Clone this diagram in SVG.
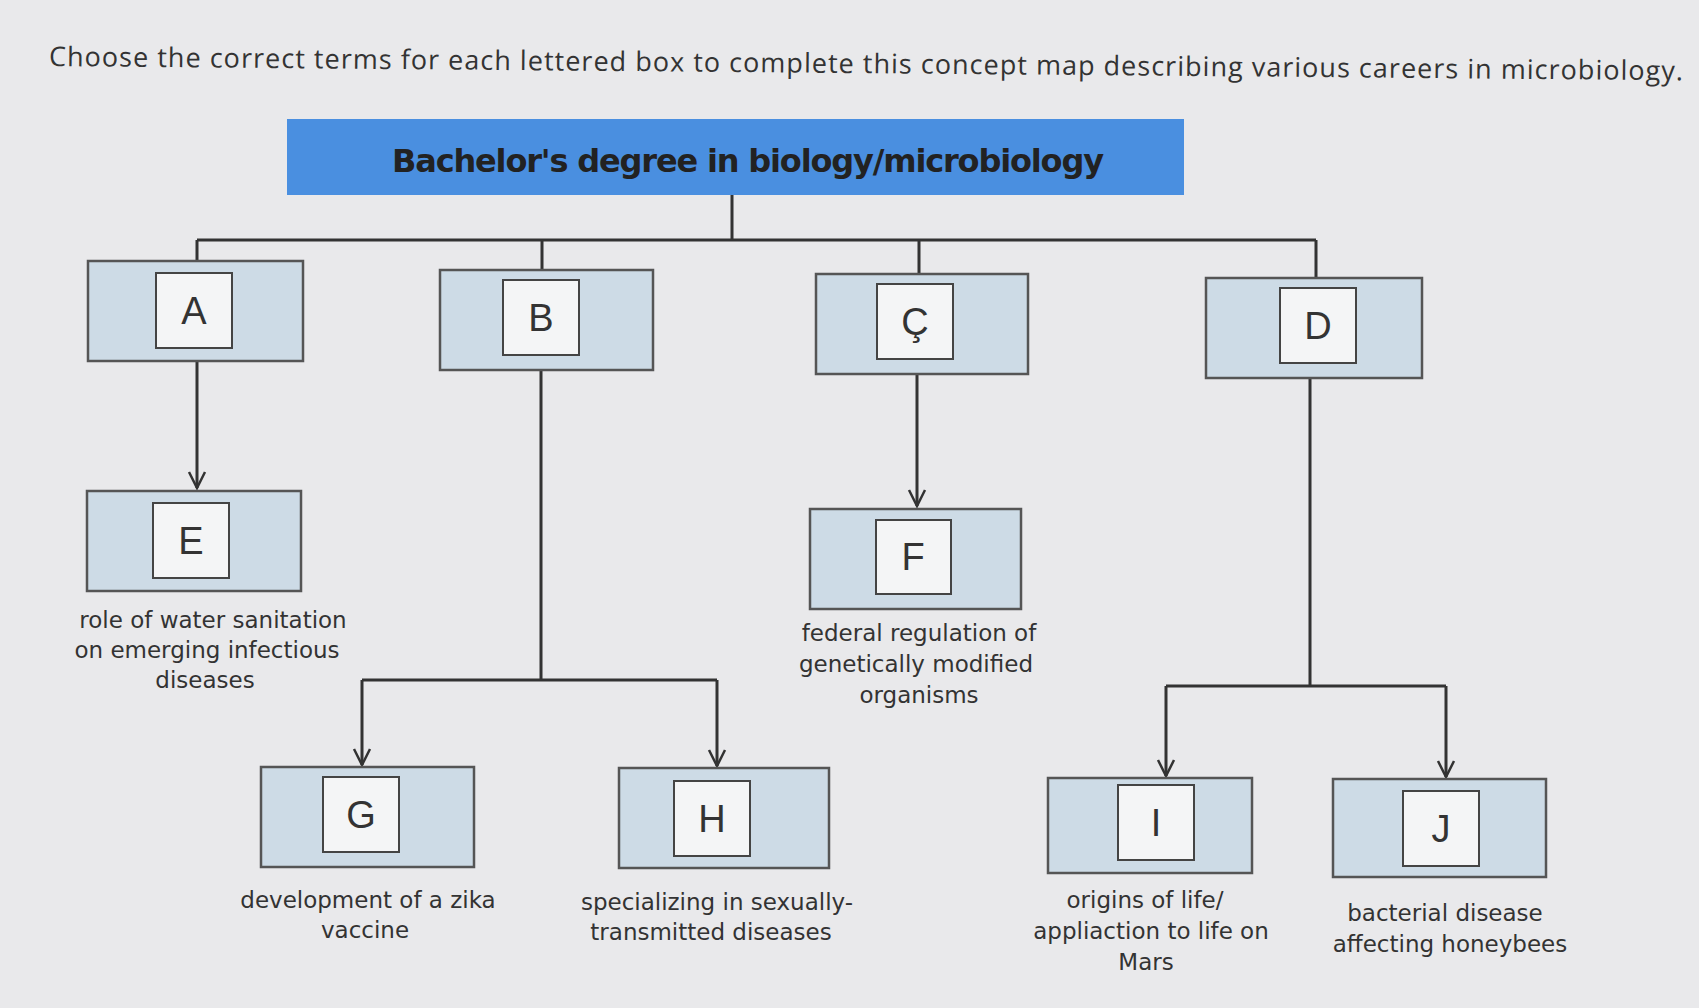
<svg xmlns="http://www.w3.org/2000/svg" width="1699" height="1008" viewBox="0 0 1699 1008">
<defs>
<marker id="a" viewBox="0 0 20 20" refX="18" refY="10" markerWidth="20" markerHeight="20" markerUnits="userSpaceOnUse" orient="auto"><path d="M2,2 L18,10 L2,18" fill="none" stroke="#333" stroke-width="2.5"/></marker>
</defs>
<style>
.o{fill:#cddbe6;stroke:#555;stroke-width:2.5}
.i{fill:#f4f5f6;stroke:#444;stroke-width:2}
.l{font-family:"Liberation Sans",Arial,sans-serif;font-size:38px;fill:#333;text-anchor:middle}
.t{font-family:"DejaVu Sans","Liberation Sans",sans-serif;font-size:23px;fill:#333;text-anchor:middle}
.c{fill:none;stroke:#333;stroke-width:3}
</style>
<rect width="1699" height="1008" fill="#e9e9eb"/>
<text x="49" y="66" font-family="'Open Sans','Liberation Sans',sans-serif" font-size="27" fill="#333" textLength="1634" transform="rotate(0.5 49 66)">Choose the correct terms for each lettered box to complete this concept map describing various careers in microbiology.</text>
<g id="top"><rect x="287" y="119" width="897" height="76" fill="#4a8fe0"/><text x="748" y="172" font-family="'DejaVu Sans','Liberation Sans',sans-serif" font-weight="bold" font-size="32" fill="#222" text-anchor="middle" textLength="712">Bachelor's degree in biology/microbiology</text></g>
<g id="connectors">
<path class="c" d="M732,195 V240 M197,240 H1316 M197,240 V260 M542,240 V269 M919,240 V273 M1316,240 V277"/>
<path class="c" d="M197,362 V488" marker-end="url(#a)"/>
<path class="c" d="M917,375 V506" marker-end="url(#a)"/>
<path class="c" d="M541,371 V680 M362,680 H717"/>
<path class="c" d="M362,680 V765" marker-end="url(#a)"/>
<path class="c" d="M717,680 V766" marker-end="url(#a)"/>
<path class="c" d="M1310,378 V686 M1166,686 H1446"/>
<path class="c" d="M1166,686 V776" marker-end="url(#a)"/>
<path class="c" d="M1446,686 V777" marker-end="url(#a)"/>
</g>
<g id="A"><rect class="o" x="88" y="261" width="215" height="100"/><rect class="i" x="156" y="273" width="76" height="75"/><text class="l" x="194" y="324">A</text></g>
<g id="B"><rect class="o" x="440" y="270" width="213" height="100"/><rect class="i" x="503" y="280" width="76" height="75"/><text class="l" x="541" y="331">B</text></g>
<g id="C"><rect class="o" x="816" y="274" width="212" height="100"/><rect class="i" x="877" y="284" width="76" height="75"/><text class="l" x="915" y="335">Ç</text></g>
<g id="D"><rect class="o" x="1206" y="278" width="216" height="100"/><rect class="i" x="1280" y="288" width="76" height="75"/><text class="l" x="1318" y="339">D</text></g>
<g id="E"><rect class="o" x="87" y="491" width="214" height="100"/><rect class="i" x="153" y="503" width="76" height="75"/><text class="l" x="191" y="554">E</text></g>
<g id="F"><rect class="o" x="810" y="509" width="211" height="100"/><rect class="i" x="876" y="520" width="75" height="74"/><text class="l" x="913" y="570">F</text></g>
<g id="G"><rect class="o" x="261" y="767" width="213" height="100"/><rect class="i" x="323" y="777" width="76" height="75"/><text class="l" x="361" y="828">G</text></g>
<g id="H"><rect class="o" x="619" y="768" width="210" height="100"/><rect class="i" x="674" y="781" width="76" height="75"/><text class="l" x="712" y="832">H</text></g>
<g id="I"><rect class="o" x="1048" y="778" width="204" height="95"/><rect class="i" x="1118" y="785" width="76" height="75"/><text class="l" x="1156" y="836">I</text></g>
<g id="J"><rect class="o" x="1333" y="779" width="213" height="98"/><rect class="i" x="1403" y="791" width="76" height="75"/><text class="l" x="1441" y="842">J</text></g>
<g id="labels">
<text class="t" x="213" y="628">role of water sanitation</text><text class="t" x="207" y="658">on emerging infectious</text><text class="t" x="205" y="688">diseases</text>
<text class="t" x="919" y="641">federal regulation of</text><text class="t" x="916" y="672">genetically modified</text><text class="t" x="919" y="703">organisms</text>
<text class="t" x="368" y="908">development of a zika</text><text class="t" x="365" y="938">vaccine</text>
<text class="t" x="717" y="910">specializing in sexually-</text><text class="t" x="711" y="940">transmitted diseases</text>
<text class="t" x="1145" y="908">origins of life/</text><text class="t" x="1151" y="939">appliaction to life on</text><text class="t" x="1146" y="970">Mars</text>
<text class="t" x="1445" y="921">bacterial disease</text><text class="t" x="1450" y="952">affecting honeybees</text>
</g>
</svg>
